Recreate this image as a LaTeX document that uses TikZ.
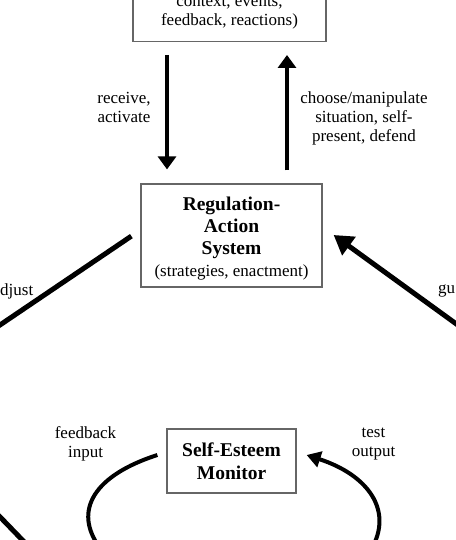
\documentclass[tikz,border=0pt]{standalone}
\usepackage{fontspec}
\setmainfont{Liberation Serif}
\usetikzlibrary{arrows.meta}

\begin{document}
\begin{tikzpicture}[
    x = 1pt, y = -1pt,
    every node/.style = {font = \fontsize{17}{19}\selectfont, align = center},
    box/.style = {draw = black!60, line width = 1.2pt, inner sep = 0pt},
    title/.style = {font = \fontsize{19.5}{22}\selectfont\bfseries},
    arrow/.style = {line width = 4.5pt, -{Triangle[length = 13pt, width = 18pt]}},
    bigarrow/.style = {line width = 5pt, -{Triangle[length = 19pt, width = 22pt]}},
    link/.style = {line width = 5pt},
    loop/.style = {line width = 4pt}
  ]
  \useasboundingbox (0,0) rectangle (455,540);

  % boxes
  \node [box, minimum width = 193pt, inner ysep = 12pt, anchor = south]
    (situation) at (229.5,42) {context, events,\\feedback, reactions)};
  \node [box, title, minimum width = 181pt, minimum height = 103pt]
    (regulation) at (231.5,235.5)
    {\rule{0pt}{19.5pt}Regulation-\\Action\\System\\{\mdseries\fontsize{17}{22}\selectfont (strategies, enactment)}};
  \node [box, font = \fontsize{19.5}{23}\selectfont\bfseries,
    minimum width = 129pt, minimum height = 64pt]
    (monitor) at (231.5,461) {Self-Esteem\\Monitor};

  % labels
  \node (receive) at (124,107.5) {receive,\\activate};
  \node (choose) at (364,118) {choose/manipulate\\situation, self-\\present, defend};
  \node (feedback) at (85.5,444) {feedback\\input};
  \node (test) at (373.5,444) {test\\output};
  \node [anchor = west, inner sep = 0pt] (adjust) at (0,291) {djust};
  \node [anchor = west, inner sep = 0pt] (guide) at (438,291) {gu};

  % loose ends
  \coordinate (adjustend) at (-20,338.5);
  \coordinate (guideend) at (475,337.5);
  \coordinate (feedbackend) at (100,548);
  \coordinate (testend) at (372,548);
  \coordinate (lowstart) at (-10,506.5);
  \coordinate (lowend) at (32,550);

  % connectors
  \draw [arrow, shorten < = 13pt, shorten > = 14pt]
    ([xshift = -62.5pt]situation.south) -- ([xshift = -64.5pt]regulation.north);
  \draw [arrow, shorten < = 13pt, shorten > = 13pt]
    ([xshift = 55.5pt]regulation.north) -- ([xshift = 57.5pt]situation.south);
  \draw [link, shorten < = 10.9pt] ([yshift = 5.5pt]regulation.west) -- (adjustend);
  \draw [bigarrow, shorten > = 13.6pt] (guideend) -- ([yshift = 8.5pt]regulation.east);
  \draw [loop] ([xshift = -9pt, yshift = 6pt]monitor.west)
    .. controls (95,475) and (72,510) .. (feedbackend);
  \draw [loop, -{Triangle[length = 14pt, width = 16pt]}] (testend)
    .. controls (393,510) and (368,475) .. ([xshift = 10pt, yshift = 6pt]monitor.east);
  \draw [link] (lowstart) -- (lowend);
\end{tikzpicture}
\end{document}
